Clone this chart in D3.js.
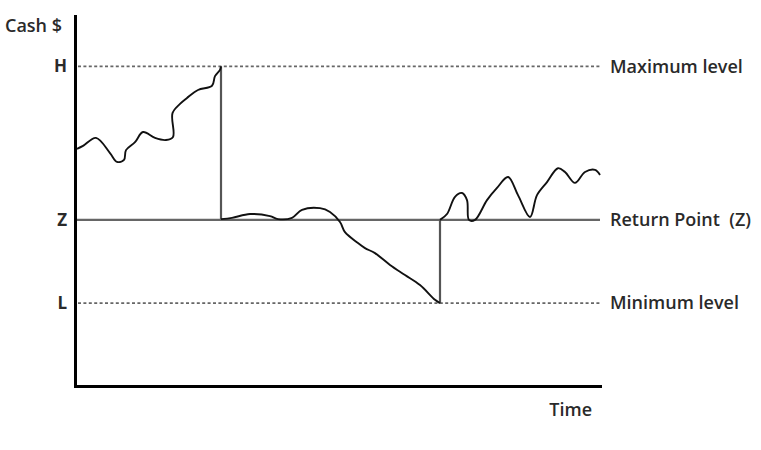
<!DOCTYPE html>
<html>
<head>
<meta charset="utf-8">
<script src="https://cdn.jsdelivr.net/npm/d3@7"></script>
<style>
  body { margin: 0; background: #fff; }
  text { font-family: "Open Sans", "Noto Sans", sans-serif; fill: #2a2a2a; }
</style>
</head>
<body>
<div class="chart"></div>
<script>
// control levels (cash units)
const levelH = 76;
const levelZ = 39.5;
const levelL = 19.7;

const levelNames = ['H', 'Z', 'L'];
const levelValues = [levelH, levelZ, levelL];
const levelLabels = ['Maximum level', 'Return Point\u00a0\u00a0(Z)', 'Minimum level'];

// cash balance path: [time, cash]
const rising = [
	[0.4, 56.4], [1.6, 57.1], [4.2, 59.0], [7, 55.4], [8.4, 53.3], [9.8, 53.8],
	[10.2, 56.1], [12, 58.0], [13.6, 60.4], [16, 59.0], [18.2, 58.5], [19.6, 59.2],
	[19.5, 64.9], [21, 67.1], [22.4, 68.5], [24.6, 70.4], [27.4, 71.4], [28, 73.7],
	[29, 75.2], [29.2, 76]
];
const falling = [
	[29.2, 39.7], [31.4, 40.0], [35, 40.9], [39, 40.4], [40.6, 39.7], [43.4, 40.0],
	[45.4, 41.9], [49, 42.3], [51, 41.4], [53, 39.0], [54, 36.6], [56.6, 34.0],
	[58, 32.8], [60, 31.6], [63, 28.8], [66, 26.4], [69, 24.0], [72, 20.5], [73, 19.7]
];
const recovering = [
	[73, 39.5], [74.4, 40.9], [76, 45.0], [77.4, 45.9], [78.4, 44.2], [78.8, 39.5],
	[80, 39.5], [82.4, 44.2], [84.4, 47.1], [86.6, 49.7], [88.6, 45.4], [91, 40.2],
	[92.4, 45.4], [94.4, 48.5], [96.6, 51.8], [98, 50.9], [100, 48.3], [102, 50.9],
	[104, 51.4], [105, 50.2]
];

const width = 761, height = 450;
const plot = {left: 75, right: 600, top: 16, bottom: 386};

const svg = d3.select('.chart').append('svg')
	.attr('width', width)
	.attr('height', height);

const xScale = d3.scaleLinear()
	.domain([0, 105])
	.range([plot.left, plot.right]);

const yScale = d3.scaleLinear()
	.domain([0, 88])
	.range([plot.bottom, plot.top]);

// reference lines
levelValues.forEach((v, i) => {
	svg.append('line')
		.attr('x1', i === 1 ? plot.left : plot.left + 3)
		.attr('x2', plot.right)
		.attr('y1', yScale(v))
		.attr('y2', yScale(v))
		.attr('stroke', i === 1 ? '#666' : '#666')
		.attr('stroke-width', i === 1 ? 2.2 : 1.8)
		.attr('stroke-dasharray', i === 1 ? null : '3,2.4');

	svg.append('text')
		.attr('x', plot.right + 10)
		.attr('y', yScale(v))
		.attr('dy', '0.35em')
		.attr('font-size', 18)
		.attr('font-weight', 600)
		.text(levelLabels[i]);
});

// vertical jumps (cash returned to Z)
const jumps = [
	[rising[rising.length - 1], falling[0]],
	[falling[falling.length - 1], recovering[0]]
];
svg.selectAll('.jump')
	.data(jumps)
	.enter()
	.append('line')
	.attr('class', 'jump')
	.attr('x1', d => xScale(d[0][0]))
	.attr('x2', d => xScale(d[1][0]))
	.attr('y1', d => yScale(d[0][1]))
	.attr('y2', d => yScale(d[1][1]))
	.attr('stroke', '#555')
	.attr('stroke-width', 2.2);

const line = d3.line()
	.x(d => xScale(d[0]))
	.y(d => yScale(d[1]))
	.curve(d3.curveCatmullRom.alpha(0.5));

svg.selectAll('.cash')
	.data([rising, falling, recovering])
	.enter()
	.append('path')
	.attr('class', 'cash')
	.attr('d', line)
	.attr('fill', 'none')
	.attr('stroke', '#111')
	.attr('stroke-width', 1.9)
	.attr('stroke-linejoin', 'round');

// axes
const yAxis = d3.axisLeft(yScale)
	.tickValues(levelValues)
	.tickFormat((d, i) => levelNames[i])
	.tickSize(0)
	.tickSizeOuter(0)
	.tickPadding(8);

const xAxis = d3.axisBottom(xScale)
	.tickValues([])
	.tickSizeOuter(0);

svg.append('g')
	.attr('class', 'axis x-axis')
	.attr('transform', `translate(0, ${plot.bottom})`)
	.call(xAxis);

svg.append('g')
	.attr('class', 'axis y-axis')
	.attr('transform', `translate(${plot.left}, 0)`)
	.call(yAxis);

svg.selectAll('.axis .domain')
	.attr('stroke', '#000')
	.attr('stroke-width', 3)
	.attr('stroke-linecap', 'square');

svg.selectAll('.y-axis text')
	.attr('font-size', 17)
	.attr('font-weight', 'bold')
	.attr('font-family', '"Open Sans", sans-serif')
	.attr('fill', '#222');

svg.append('text')
	.attr('x', 5)
	.attr('y', 32)
	.attr('font-size', 18)
	.attr('font-weight', 600)
	.text('Cash $');

svg.append('text')
	.attr('x', 592)
	.attr('y', 416)
	.attr('text-anchor', 'end')
	.attr('font-size', 18)
	.attr('font-weight', 600)
	.text('Time');
</script>
</body>
</html>
